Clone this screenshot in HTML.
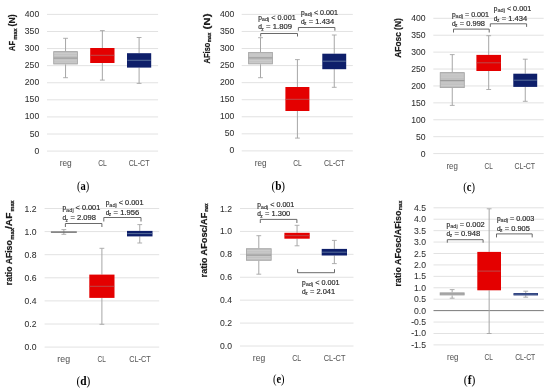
<!DOCTYPE html>
<html><head><meta charset="utf-8"><style>
html,body{margin:0;padding:0;background:#fff;}
body{width:550px;height:390px;overflow:hidden;}
svg{display:block;will-change:transform;}
</style></head><body>
<svg width="550" height="390" viewBox="0 0 550 390">
<g>
<rect width="550" height="390" fill="#fff"/>
<line x1="47.00" y1="14.40" x2="158.10" y2="14.40" stroke="#e2e2e2" stroke-width="1.0"/>
<text x="39.20" y="16.90" font-family='"Liberation Sans", sans-serif' font-size="8.6" fill="#303030" stroke="#303030" stroke-width="0.06" text-anchor="end" font-weight="normal">400</text>
<line x1="47.00" y1="31.49" x2="158.10" y2="31.49" stroke="#e2e2e2" stroke-width="1.0"/>
<text x="39.20" y="33.99" font-family='"Liberation Sans", sans-serif' font-size="8.6" fill="#303030" stroke="#303030" stroke-width="0.06" text-anchor="end" font-weight="normal">350</text>
<line x1="47.00" y1="48.57" x2="158.10" y2="48.57" stroke="#e2e2e2" stroke-width="1.0"/>
<text x="39.20" y="51.07" font-family='"Liberation Sans", sans-serif' font-size="8.6" fill="#303030" stroke="#303030" stroke-width="0.06" text-anchor="end" font-weight="normal">300</text>
<line x1="47.00" y1="65.66" x2="158.10" y2="65.66" stroke="#e2e2e2" stroke-width="1.0"/>
<text x="39.20" y="68.16" font-family='"Liberation Sans", sans-serif' font-size="8.6" fill="#303030" stroke="#303030" stroke-width="0.06" text-anchor="end" font-weight="normal">250</text>
<line x1="47.00" y1="82.75" x2="158.10" y2="82.75" stroke="#e2e2e2" stroke-width="1.0"/>
<text x="39.20" y="85.25" font-family='"Liberation Sans", sans-serif' font-size="8.6" fill="#303030" stroke="#303030" stroke-width="0.06" text-anchor="end" font-weight="normal">200</text>
<line x1="47.00" y1="99.84" x2="158.10" y2="99.84" stroke="#e2e2e2" stroke-width="1.0"/>
<text x="39.20" y="102.34" font-family='"Liberation Sans", sans-serif' font-size="8.6" fill="#303030" stroke="#303030" stroke-width="0.06" text-anchor="end" font-weight="normal">150</text>
<line x1="47.00" y1="116.93" x2="158.10" y2="116.93" stroke="#e2e2e2" stroke-width="1.0"/>
<text x="39.20" y="119.43" font-family='"Liberation Sans", sans-serif' font-size="8.6" fill="#303030" stroke="#303030" stroke-width="0.06" text-anchor="end" font-weight="normal">100</text>
<line x1="47.00" y1="134.01" x2="158.10" y2="134.01" stroke="#e2e2e2" stroke-width="1.0"/>
<text x="39.20" y="136.51" font-family='"Liberation Sans", sans-serif' font-size="8.6" fill="#303030" stroke="#303030" stroke-width="0.06" text-anchor="end" font-weight="normal">50</text>
<line x1="47.00" y1="151.10" x2="158.10" y2="151.10" stroke="#e2e2e2" stroke-width="1.0"/>
<text x="39.20" y="153.60" font-family='"Liberation Sans", sans-serif' font-size="8.6" fill="#303030" stroke="#303030" stroke-width="0.06" text-anchor="end" font-weight="normal">0</text>
<line x1="65.55" y1="38.30" x2="65.55" y2="51.20" stroke="#a6a6a6" stroke-width="1.0"/>
<line x1="65.55" y1="64.40" x2="65.55" y2="77.70" stroke="#a6a6a6" stroke-width="1.0"/>
<line x1="63.15" y1="38.30" x2="67.95" y2="38.30" stroke="#a6a6a6" stroke-width="0.9"/>
<line x1="63.15" y1="77.70" x2="67.95" y2="77.70" stroke="#a6a6a6" stroke-width="0.9"/>
<rect x="53.70" y="51.60" width="23.70" height="12.40" fill="#c0c0c0" stroke="#a2a2a2" stroke-width="0.8"/>
<line x1="54.30" y1="53.44" x2="76.80" y2="53.44" stroke="#cfcfcf" stroke-width="0.8"/>
<line x1="54.30" y1="55.29" x2="76.80" y2="55.29" stroke="#cfcfcf" stroke-width="0.8"/>
<line x1="54.30" y1="60.18" x2="76.80" y2="60.18" stroke="#cfcfcf" stroke-width="0.8"/>
<line x1="54.30" y1="62.16" x2="76.80" y2="62.16" stroke="#cfcfcf" stroke-width="0.8"/>
<line x1="53.70" y1="58.10" x2="77.40" y2="58.10" stroke="#939393" stroke-width="0.9"/>
<line x1="102.35" y1="30.60" x2="102.35" y2="48.00" stroke="#a6a6a6" stroke-width="1.0"/>
<line x1="102.35" y1="63.00" x2="102.35" y2="80.10" stroke="#a6a6a6" stroke-width="1.0"/>
<line x1="99.95" y1="30.60" x2="104.75" y2="30.60" stroke="#a6a6a6" stroke-width="0.9"/>
<line x1="99.95" y1="80.10" x2="104.75" y2="80.10" stroke="#a6a6a6" stroke-width="0.9"/>
<rect x="90.20" y="48.00" width="24.30" height="15.00" fill="#e40000"/>
<line x1="90.60" y1="55.30" x2="114.10" y2="55.30" stroke="#b85050" stroke-width="0.9"/>
<line x1="139.10" y1="37.50" x2="139.10" y2="53.20" stroke="#a6a6a6" stroke-width="1.0"/>
<line x1="139.10" y1="67.60" x2="139.10" y2="83.40" stroke="#a6a6a6" stroke-width="1.0"/>
<line x1="136.70" y1="37.50" x2="141.50" y2="37.50" stroke="#a6a6a6" stroke-width="0.9"/>
<line x1="136.70" y1="83.40" x2="141.50" y2="83.40" stroke="#a6a6a6" stroke-width="0.9"/>
<rect x="127.00" y="53.20" width="24.20" height="14.40" fill="#0e1f6a"/>
<line x1="127.40" y1="60.30" x2="150.80" y2="60.30" stroke="#6078a0" stroke-width="0.9"/>
<text x="65.70" y="165.90" font-family='"Liberation Sans", sans-serif' font-size="8.6" fill="#595959" stroke="#595959" stroke-width="0.06" text-anchor="middle" font-weight="normal" textLength="12.00" lengthAdjust="spacingAndGlyphs">reg</text>
<text x="102.50" y="165.90" font-family='"Liberation Sans", sans-serif' font-size="8.6" fill="#595959" stroke="#595959" stroke-width="0.06" text-anchor="middle" font-weight="normal" textLength="8.60" lengthAdjust="spacingAndGlyphs">CL</text>
<text x="139.10" y="165.90" font-family='"Liberation Sans", sans-serif' font-size="8.6" fill="#595959" stroke="#595959" stroke-width="0.06" text-anchor="middle" font-weight="normal" textLength="20.80" lengthAdjust="spacingAndGlyphs">CL-CT</text>
<text x="76.90" y="190.40" font-family='"Liberation Serif", serif' font-size="12.2" fill="#000" textLength="12.30" lengthAdjust="spacingAndGlyphs">(<tspan font-weight="bold">a</tspan>)</text>
<g transform="translate(15.30,50.90) rotate(-90)"><text x="0" y="0" font-family='"Liberation Sans", sans-serif' font-size="8.4" font-weight="bold" fill="#1a1a1a" stroke="#1a1a1a" stroke-width="0.2" textLength="10.00" lengthAdjust="spacingAndGlyphs">AF</text></g>
<g transform="translate(16.90,39.80) rotate(-90)"><text x="0" y="0" font-family='"Liberation Sans", sans-serif' font-size="5.6" font-weight="bold" fill="#1a1a1a" stroke="#1a1a1a" stroke-width="0.26" textLength="11.40" lengthAdjust="spacingAndGlyphs">max</text></g>
<g transform="translate(15.30,26.40) rotate(-90)"><text x="0" y="0" font-family='"Liberation Sans", sans-serif' font-size="8.4" font-weight="bold" fill="#1a1a1a" stroke="#1a1a1a" stroke-width="0.2" textLength="12.20" lengthAdjust="spacingAndGlyphs">(N)</text></g>
<line x1="241.70" y1="14.40" x2="352.80" y2="14.40" stroke="#e2e2e2" stroke-width="1.0"/>
<text x="234.30" y="16.90" font-family='"Liberation Sans", sans-serif' font-size="8.6" fill="#303030" stroke="#303030" stroke-width="0.06" text-anchor="end" font-weight="normal">400</text>
<line x1="241.70" y1="31.46" x2="352.80" y2="31.46" stroke="#e2e2e2" stroke-width="1.0"/>
<text x="234.30" y="33.96" font-family='"Liberation Sans", sans-serif' font-size="8.6" fill="#303030" stroke="#303030" stroke-width="0.06" text-anchor="end" font-weight="normal">350</text>
<line x1="241.70" y1="48.52" x2="352.80" y2="48.52" stroke="#e2e2e2" stroke-width="1.0"/>
<text x="234.30" y="51.02" font-family='"Liberation Sans", sans-serif' font-size="8.6" fill="#303030" stroke="#303030" stroke-width="0.06" text-anchor="end" font-weight="normal">300</text>
<line x1="241.70" y1="65.59" x2="352.80" y2="65.59" stroke="#e2e2e2" stroke-width="1.0"/>
<text x="234.30" y="68.09" font-family='"Liberation Sans", sans-serif' font-size="8.6" fill="#303030" stroke="#303030" stroke-width="0.06" text-anchor="end" font-weight="normal">250</text>
<line x1="241.70" y1="82.65" x2="352.80" y2="82.65" stroke="#e2e2e2" stroke-width="1.0"/>
<text x="234.30" y="85.15" font-family='"Liberation Sans", sans-serif' font-size="8.6" fill="#303030" stroke="#303030" stroke-width="0.06" text-anchor="end" font-weight="normal">200</text>
<line x1="241.70" y1="99.71" x2="352.80" y2="99.71" stroke="#e2e2e2" stroke-width="1.0"/>
<text x="234.30" y="102.21" font-family='"Liberation Sans", sans-serif' font-size="8.6" fill="#303030" stroke="#303030" stroke-width="0.06" text-anchor="end" font-weight="normal">150</text>
<line x1="241.70" y1="116.78" x2="352.80" y2="116.78" stroke="#e2e2e2" stroke-width="1.0"/>
<text x="234.30" y="119.28" font-family='"Liberation Sans", sans-serif' font-size="8.6" fill="#303030" stroke="#303030" stroke-width="0.06" text-anchor="end" font-weight="normal">100</text>
<line x1="241.70" y1="133.84" x2="352.80" y2="133.84" stroke="#e2e2e2" stroke-width="1.0"/>
<text x="234.30" y="136.34" font-family='"Liberation Sans", sans-serif' font-size="8.6" fill="#303030" stroke="#303030" stroke-width="0.06" text-anchor="end" font-weight="normal">50</text>
<line x1="241.70" y1="150.90" x2="352.80" y2="150.90" stroke="#e2e2e2" stroke-width="1.0"/>
<text x="234.30" y="153.40" font-family='"Liberation Sans", sans-serif' font-size="8.6" fill="#303030" stroke="#303030" stroke-width="0.06" text-anchor="end" font-weight="normal">0</text>
<line x1="260.50" y1="37.70" x2="260.50" y2="52.10" stroke="#a6a6a6" stroke-width="1.0"/>
<line x1="260.50" y1="64.30" x2="260.50" y2="77.70" stroke="#a6a6a6" stroke-width="1.0"/>
<line x1="258.10" y1="37.70" x2="262.90" y2="37.70" stroke="#a6a6a6" stroke-width="0.9"/>
<line x1="258.10" y1="77.70" x2="262.90" y2="77.70" stroke="#a6a6a6" stroke-width="0.9"/>
<rect x="248.60" y="52.50" width="23.80" height="11.40" fill="#c0c0c0" stroke="#a2a2a2" stroke-width="0.8"/>
<line x1="249.20" y1="54.17" x2="271.80" y2="54.17" stroke="#cfcfcf" stroke-width="0.8"/>
<line x1="249.20" y1="55.88" x2="271.80" y2="55.88" stroke="#cfcfcf" stroke-width="0.8"/>
<line x1="249.20" y1="60.40" x2="271.80" y2="60.40" stroke="#cfcfcf" stroke-width="0.8"/>
<line x1="249.20" y1="62.23" x2="271.80" y2="62.23" stroke="#cfcfcf" stroke-width="0.8"/>
<line x1="248.60" y1="57.90" x2="272.40" y2="57.90" stroke="#939393" stroke-width="0.9"/>
<line x1="297.40" y1="59.60" x2="297.40" y2="87.00" stroke="#a6a6a6" stroke-width="1.0"/>
<line x1="297.40" y1="111.00" x2="297.40" y2="138.10" stroke="#a6a6a6" stroke-width="1.0"/>
<line x1="295.00" y1="59.60" x2="299.80" y2="59.60" stroke="#a6a6a6" stroke-width="0.9"/>
<line x1="295.00" y1="138.10" x2="299.80" y2="138.10" stroke="#a6a6a6" stroke-width="0.9"/>
<rect x="285.40" y="87.00" width="24.00" height="24.00" fill="#e40000"/>
<line x1="285.80" y1="99.30" x2="309.00" y2="99.30" stroke="#b85050" stroke-width="0.9"/>
<line x1="334.25" y1="35.00" x2="334.25" y2="53.70" stroke="#a6a6a6" stroke-width="1.0"/>
<line x1="334.25" y1="69.20" x2="334.25" y2="87.30" stroke="#a6a6a6" stroke-width="1.0"/>
<line x1="331.85" y1="35.00" x2="336.65" y2="35.00" stroke="#a6a6a6" stroke-width="0.9"/>
<line x1="331.85" y1="87.30" x2="336.65" y2="87.30" stroke="#a6a6a6" stroke-width="0.9"/>
<rect x="322.30" y="53.70" width="23.90" height="15.50" fill="#0e1f6a"/>
<line x1="322.70" y1="61.20" x2="345.80" y2="61.20" stroke="#6078a0" stroke-width="0.9"/>
<text x="260.70" y="165.50" font-family='"Liberation Sans", sans-serif' font-size="8.6" fill="#595959" stroke="#595959" stroke-width="0.06" text-anchor="middle" font-weight="normal" textLength="11.80" lengthAdjust="spacingAndGlyphs">reg</text>
<text x="297.40" y="165.50" font-family='"Liberation Sans", sans-serif' font-size="8.6" fill="#595959" stroke="#595959" stroke-width="0.06" text-anchor="middle" font-weight="normal" textLength="8.40" lengthAdjust="spacingAndGlyphs">CL</text>
<text x="334.30" y="165.50" font-family='"Liberation Sans", sans-serif' font-size="8.6" fill="#595959" stroke="#595959" stroke-width="0.06" text-anchor="middle" font-weight="normal" textLength="20.80" lengthAdjust="spacingAndGlyphs">CL-CT</text>
<text x="258.20" y="19.80" font-family='"Liberation Sans", sans-serif' fill="#2a2a2a" stroke="#2a2a2a" stroke-width="0.16" font-size="6.6">p</text>
<text x="261.80" y="21.20" font-family='"Liberation Sans", sans-serif' fill="#2a2a2a" stroke="#2a2a2a" stroke-width="0.06" font-size="5.0" textLength="7.6" lengthAdjust="spacingAndGlyphs">adj</text>
<text x="271.30" y="19.80" font-family='"Liberation Sans", sans-serif' fill="#2a2a2a" stroke="#2a2a2a" stroke-width="0.16" font-size="6.6" textLength="24.40" lengthAdjust="spacingAndGlyphs">&lt; 0.001</text>
<text x="258.20" y="29.30" font-family='"Liberation Sans", sans-serif' fill="#2a2a2a" stroke="#2a2a2a" stroke-width="0.16" font-size="6.6">d</text>
<text x="261.30" y="30.70" font-family='"Liberation Sans", sans-serif' fill="#2a2a2a" stroke="#2a2a2a" stroke-width="0.06" font-size="5.0">z</text>
<text x="266.10" y="29.30" font-family='"Liberation Sans", sans-serif' fill="#2a2a2a" stroke="#2a2a2a" stroke-width="0.16" font-size="6.6" textLength="25.90" lengthAdjust="spacingAndGlyphs">= 1.809</text>
<text x="300.90" y="14.60" font-family='"Liberation Sans", sans-serif' fill="#2a2a2a" stroke="#2a2a2a" stroke-width="0.16" font-size="6.6">p</text>
<text x="304.50" y="16.00" font-family='"Liberation Sans", sans-serif' fill="#2a2a2a" stroke="#2a2a2a" stroke-width="0.06" font-size="5.0" textLength="7.6" lengthAdjust="spacingAndGlyphs">adj</text>
<text x="314.00" y="14.60" font-family='"Liberation Sans", sans-serif' fill="#2a2a2a" stroke="#2a2a2a" stroke-width="0.16" font-size="6.6" textLength="23.90" lengthAdjust="spacingAndGlyphs">&lt; 0.001</text>
<text x="300.90" y="24.00" font-family='"Liberation Sans", sans-serif' fill="#2a2a2a" stroke="#2a2a2a" stroke-width="0.16" font-size="6.6">d</text>
<text x="304.00" y="25.40" font-family='"Liberation Sans", sans-serif' fill="#2a2a2a" stroke="#2a2a2a" stroke-width="0.06" font-size="5.0">z</text>
<text x="308.80" y="24.00" font-family='"Liberation Sans", sans-serif' fill="#2a2a2a" stroke="#2a2a2a" stroke-width="0.16" font-size="6.6" textLength="25.50" lengthAdjust="spacingAndGlyphs">= 1.434</text>
<path d="M260.70,36.50 L260.70,33.50 L297.50,33.50 L297.50,36.50" fill="none" stroke="#595959" stroke-width="0.9"/>
<path d="M298.40,30.70 L298.40,27.50 L334.90,27.50 L334.90,30.70" fill="none" stroke="#595959" stroke-width="0.9"/>
<text x="271.40" y="190.30" font-family='"Liberation Serif", serif' font-size="12.2" fill="#000" textLength="13.70" lengthAdjust="spacingAndGlyphs">(<tspan font-weight="bold">b</tspan>)</text>
<g transform="translate(209.60,63.40) rotate(-90)"><text x="0" y="0" font-family='"Liberation Sans", sans-serif' font-size="8.4" font-weight="bold" fill="#1a1a1a" stroke="#1a1a1a" stroke-width="0.2" textLength="20.80" lengthAdjust="spacingAndGlyphs">AFiso</text></g>
<g transform="translate(211.30,42.20) rotate(-90)"><text x="0" y="0" font-family='"Liberation Sans", sans-serif' font-size="5.6" font-weight="bold" fill="#1a1a1a" stroke="#1a1a1a" stroke-width="0.26" textLength="9.60" lengthAdjust="spacingAndGlyphs">max</text></g>
<g transform="translate(209.60,29.50) rotate(-90)"><text x="0" y="0" font-family='"Liberation Sans", sans-serif' font-size="8.4" font-weight="bold" fill="#1a1a1a" stroke="#1a1a1a" stroke-width="0.2" textLength="16.10" lengthAdjust="spacingAndGlyphs">(N)</text></g>
<line x1="433.30" y1="18.30" x2="543.70" y2="18.30" stroke="#e2e2e2" stroke-width="1.0"/>
<text x="425.50" y="21.30" font-family='"Liberation Sans", sans-serif' font-size="8.6" fill="#303030" stroke="#303030" stroke-width="0.06" text-anchor="end" font-weight="normal">400</text>
<line x1="433.30" y1="35.21" x2="543.70" y2="35.21" stroke="#e2e2e2" stroke-width="1.0"/>
<text x="425.50" y="38.21" font-family='"Liberation Sans", sans-serif' font-size="8.6" fill="#303030" stroke="#303030" stroke-width="0.06" text-anchor="end" font-weight="normal">350</text>
<line x1="433.30" y1="52.12" x2="543.70" y2="52.12" stroke="#e2e2e2" stroke-width="1.0"/>
<text x="425.50" y="55.12" font-family='"Liberation Sans", sans-serif' font-size="8.6" fill="#303030" stroke="#303030" stroke-width="0.06" text-anchor="end" font-weight="normal">300</text>
<line x1="433.30" y1="69.04" x2="543.70" y2="69.04" stroke="#e2e2e2" stroke-width="1.0"/>
<text x="425.50" y="72.04" font-family='"Liberation Sans", sans-serif' font-size="8.6" fill="#303030" stroke="#303030" stroke-width="0.06" text-anchor="end" font-weight="normal">250</text>
<line x1="433.30" y1="85.95" x2="543.70" y2="85.95" stroke="#e2e2e2" stroke-width="1.0"/>
<text x="425.50" y="88.95" font-family='"Liberation Sans", sans-serif' font-size="8.6" fill="#303030" stroke="#303030" stroke-width="0.06" text-anchor="end" font-weight="normal">200</text>
<line x1="433.30" y1="102.86" x2="543.70" y2="102.86" stroke="#e2e2e2" stroke-width="1.0"/>
<text x="425.50" y="105.86" font-family='"Liberation Sans", sans-serif' font-size="8.6" fill="#303030" stroke="#303030" stroke-width="0.06" text-anchor="end" font-weight="normal">150</text>
<line x1="433.30" y1="119.77" x2="543.70" y2="119.77" stroke="#e2e2e2" stroke-width="1.0"/>
<text x="425.50" y="122.77" font-family='"Liberation Sans", sans-serif' font-size="8.6" fill="#303030" stroke="#303030" stroke-width="0.06" text-anchor="end" font-weight="normal">100</text>
<line x1="433.30" y1="136.69" x2="543.70" y2="136.69" stroke="#e2e2e2" stroke-width="1.0"/>
<text x="425.50" y="139.69" font-family='"Liberation Sans", sans-serif' font-size="8.6" fill="#303030" stroke="#303030" stroke-width="0.06" text-anchor="end" font-weight="normal">50</text>
<line x1="433.30" y1="153.60" x2="543.70" y2="153.60" stroke="#e2e2e2" stroke-width="1.0"/>
<text x="425.50" y="156.60" font-family='"Liberation Sans", sans-serif' font-size="8.6" fill="#303030" stroke="#303030" stroke-width="0.06" text-anchor="end" font-weight="normal">0</text>
<line x1="452.25" y1="54.60" x2="452.25" y2="72.20" stroke="#a6a6a6" stroke-width="1.0"/>
<line x1="452.25" y1="88.00" x2="452.25" y2="105.40" stroke="#a6a6a6" stroke-width="1.0"/>
<line x1="449.85" y1="54.60" x2="454.65" y2="54.60" stroke="#a6a6a6" stroke-width="0.9"/>
<line x1="449.85" y1="105.40" x2="454.65" y2="105.40" stroke="#a6a6a6" stroke-width="0.9"/>
<rect x="440.20" y="72.60" width="24.10" height="15.00" fill="#c0c0c0" stroke="#a2a2a2" stroke-width="0.8"/>
<line x1="440.80" y1="74.89" x2="463.70" y2="74.89" stroke="#cfcfcf" stroke-width="0.8"/>
<line x1="440.80" y1="77.10" x2="463.70" y2="77.10" stroke="#cfcfcf" stroke-width="0.8"/>
<line x1="440.80" y1="82.94" x2="463.70" y2="82.94" stroke="#cfcfcf" stroke-width="0.8"/>
<line x1="440.80" y1="85.31" x2="463.70" y2="85.31" stroke="#cfcfcf" stroke-width="0.8"/>
<line x1="440.20" y1="80.60" x2="464.30" y2="80.60" stroke="#939393" stroke-width="0.9"/>
<line x1="488.70" y1="35.70" x2="488.70" y2="54.90" stroke="#a6a6a6" stroke-width="1.0"/>
<line x1="488.70" y1="71.00" x2="488.70" y2="89.50" stroke="#a6a6a6" stroke-width="1.0"/>
<line x1="486.30" y1="35.70" x2="491.10" y2="35.70" stroke="#a6a6a6" stroke-width="0.9"/>
<line x1="486.30" y1="89.50" x2="491.10" y2="89.50" stroke="#a6a6a6" stroke-width="0.9"/>
<rect x="476.40" y="54.90" width="24.60" height="16.10" fill="#e40000"/>
<line x1="476.80" y1="62.80" x2="500.60" y2="62.80" stroke="#b85050" stroke-width="0.9"/>
<line x1="525.25" y1="59.20" x2="525.25" y2="73.70" stroke="#a6a6a6" stroke-width="1.0"/>
<line x1="525.25" y1="86.90" x2="525.25" y2="101.30" stroke="#a6a6a6" stroke-width="1.0"/>
<line x1="522.85" y1="59.20" x2="527.65" y2="59.20" stroke="#a6a6a6" stroke-width="0.9"/>
<line x1="522.85" y1="101.30" x2="527.65" y2="101.30" stroke="#a6a6a6" stroke-width="0.9"/>
<rect x="513.30" y="73.70" width="23.90" height="13.20" fill="#0e1f6a"/>
<line x1="513.70" y1="80.20" x2="536.80" y2="80.20" stroke="#6078a0" stroke-width="0.9"/>
<text x="452.10" y="168.50" font-family='"Liberation Sans", sans-serif' font-size="8.6" fill="#595959" stroke="#595959" stroke-width="0.06" text-anchor="middle" font-weight="normal" textLength="11.40" lengthAdjust="spacingAndGlyphs">reg</text>
<text x="488.60" y="168.50" font-family='"Liberation Sans", sans-serif' font-size="8.6" fill="#595959" stroke="#595959" stroke-width="0.06" text-anchor="middle" font-weight="normal" textLength="8.20" lengthAdjust="spacingAndGlyphs">CL</text>
<text x="524.80" y="168.50" font-family='"Liberation Sans", sans-serif' font-size="8.6" fill="#595959" stroke="#595959" stroke-width="0.06" text-anchor="middle" font-weight="normal" textLength="20.50" lengthAdjust="spacingAndGlyphs">CL-CT</text>
<text x="451.90" y="16.80" font-family='"Liberation Sans", sans-serif' fill="#2a2a2a" stroke="#2a2a2a" stroke-width="0.16" font-size="6.6">p</text>
<text x="455.50" y="18.20" font-family='"Liberation Sans", sans-serif' fill="#2a2a2a" stroke="#2a2a2a" stroke-width="0.06" font-size="5.0" textLength="7.6" lengthAdjust="spacingAndGlyphs">adj</text>
<text x="465.00" y="16.80" font-family='"Liberation Sans", sans-serif' fill="#2a2a2a" stroke="#2a2a2a" stroke-width="0.16" font-size="6.6" textLength="24.00" lengthAdjust="spacingAndGlyphs">= 0.001</text>
<text x="451.90" y="25.90" font-family='"Liberation Sans", sans-serif' fill="#2a2a2a" stroke="#2a2a2a" stroke-width="0.16" font-size="6.6">d</text>
<text x="455.00" y="27.30" font-family='"Liberation Sans", sans-serif' fill="#2a2a2a" stroke="#2a2a2a" stroke-width="0.06" font-size="5.0">z</text>
<text x="459.80" y="25.90" font-family='"Liberation Sans", sans-serif' fill="#2a2a2a" stroke="#2a2a2a" stroke-width="0.16" font-size="6.6" textLength="25.20" lengthAdjust="spacingAndGlyphs">= 0.998</text>
<text x="493.80" y="10.80" font-family='"Liberation Sans", sans-serif' fill="#2a2a2a" stroke="#2a2a2a" stroke-width="0.16" font-size="6.6">p</text>
<text x="497.40" y="12.20" font-family='"Liberation Sans", sans-serif' fill="#2a2a2a" stroke="#2a2a2a" stroke-width="0.06" font-size="5.0" textLength="7.6" lengthAdjust="spacingAndGlyphs">adj</text>
<text x="506.90" y="10.80" font-family='"Liberation Sans", sans-serif' fill="#2a2a2a" stroke="#2a2a2a" stroke-width="0.16" font-size="6.6" textLength="24.30" lengthAdjust="spacingAndGlyphs">&lt; 0.001</text>
<text x="493.80" y="20.50" font-family='"Liberation Sans", sans-serif' fill="#2a2a2a" stroke="#2a2a2a" stroke-width="0.16" font-size="6.6">d</text>
<text x="496.90" y="21.90" font-family='"Liberation Sans", sans-serif' fill="#2a2a2a" stroke="#2a2a2a" stroke-width="0.06" font-size="5.0">z</text>
<text x="501.70" y="20.50" font-family='"Liberation Sans", sans-serif' fill="#2a2a2a" stroke="#2a2a2a" stroke-width="0.16" font-size="6.6" textLength="25.50" lengthAdjust="spacingAndGlyphs">= 1.434</text>
<path d="M453.50,32.50 L453.50,29.10 L489.20,29.10 L489.20,32.50" fill="none" stroke="#595959" stroke-width="0.9"/>
<path d="M490.30,26.90 L490.30,23.80 L526.60,23.80 L526.60,26.90" fill="none" stroke="#595959" stroke-width="0.9"/>
<text x="463.30" y="190.50" font-family='"Liberation Serif", serif' font-size="12.2" fill="#000" textLength="11.70" lengthAdjust="spacingAndGlyphs">(<tspan font-weight="bold">c</tspan>)</text>
<g transform="translate(401.00,57.70) rotate(-90)"><text x="0" y="0" font-family='"Liberation Sans", sans-serif' font-size="8.4" font-weight="bold" fill="#1a1a1a" stroke="#1a1a1a" stroke-width="0.2" textLength="39.40" lengthAdjust="spacingAndGlyphs">AFosc (N)</text></g>
<line x1="44.60" y1="208.50" x2="159.20" y2="208.50" stroke="#e2e2e2" stroke-width="1.0"/>
<text x="36.50" y="211.50" font-family='"Liberation Sans", sans-serif' font-size="8.6" fill="#303030" stroke="#303030" stroke-width="0.06" text-anchor="end" font-weight="normal">1.2</text>
<line x1="44.60" y1="231.60" x2="159.20" y2="231.60" stroke="#e2e2e2" stroke-width="1.0"/>
<text x="36.50" y="234.60" font-family='"Liberation Sans", sans-serif' font-size="8.6" fill="#303030" stroke="#303030" stroke-width="0.06" text-anchor="end" font-weight="normal">1.0</text>
<line x1="44.60" y1="254.70" x2="159.20" y2="254.70" stroke="#e2e2e2" stroke-width="1.0"/>
<text x="36.50" y="257.70" font-family='"Liberation Sans", sans-serif' font-size="8.6" fill="#303030" stroke="#303030" stroke-width="0.06" text-anchor="end" font-weight="normal">0.8</text>
<line x1="44.60" y1="277.80" x2="159.20" y2="277.80" stroke="#e2e2e2" stroke-width="1.0"/>
<text x="36.50" y="280.80" font-family='"Liberation Sans", sans-serif' font-size="8.6" fill="#303030" stroke="#303030" stroke-width="0.06" text-anchor="end" font-weight="normal">0.6</text>
<line x1="44.60" y1="300.90" x2="159.20" y2="300.90" stroke="#e2e2e2" stroke-width="1.0"/>
<text x="36.50" y="303.90" font-family='"Liberation Sans", sans-serif' font-size="8.6" fill="#303030" stroke="#303030" stroke-width="0.06" text-anchor="end" font-weight="normal">0.4</text>
<line x1="44.60" y1="324.00" x2="159.20" y2="324.00" stroke="#e2e2e2" stroke-width="1.0"/>
<text x="36.50" y="327.00" font-family='"Liberation Sans", sans-serif' font-size="8.6" fill="#303030" stroke="#303030" stroke-width="0.06" text-anchor="end" font-weight="normal">0.2</text>
<line x1="44.60" y1="347.10" x2="159.20" y2="347.10" stroke="#e2e2e2" stroke-width="1.0"/>
<text x="36.50" y="350.10" font-family='"Liberation Sans", sans-serif' font-size="8.6" fill="#303030" stroke="#303030" stroke-width="0.06" text-anchor="end" font-weight="normal">0.0</text>
<line x1="63.85" y1="229.60" x2="63.85" y2="232.10" stroke="#a6a6a6" stroke-width="1.0"/>
<line x1="63.85" y1="232.10" x2="63.85" y2="234.30" stroke="#a6a6a6" stroke-width="1.0"/>
<line x1="61.45" y1="229.60" x2="66.25" y2="229.60" stroke="#a6a6a6" stroke-width="0.9"/>
<line x1="61.45" y1="234.30" x2="66.25" y2="234.30" stroke="#a6a6a6" stroke-width="0.9"/>
<line x1="50.90" y1="232.10" x2="76.80" y2="232.10" stroke="#6a6a6a" stroke-width="1.4"/>
<line x1="101.90" y1="248.30" x2="101.90" y2="274.60" stroke="#a6a6a6" stroke-width="1.0"/>
<line x1="101.90" y1="297.90" x2="101.90" y2="324.30" stroke="#a6a6a6" stroke-width="1.0"/>
<line x1="99.50" y1="248.30" x2="104.30" y2="248.30" stroke="#a6a6a6" stroke-width="0.9"/>
<line x1="99.50" y1="324.30" x2="104.30" y2="324.30" stroke="#a6a6a6" stroke-width="0.9"/>
<rect x="89.30" y="274.60" width="25.20" height="23.30" fill="#e40000"/>
<line x1="89.70" y1="286.30" x2="114.10" y2="286.30" stroke="#b85050" stroke-width="0.9"/>
<line x1="139.75" y1="224.60" x2="139.75" y2="230.90" stroke="#a6a6a6" stroke-width="1.0"/>
<line x1="139.75" y1="236.40" x2="139.75" y2="243.00" stroke="#a6a6a6" stroke-width="1.0"/>
<line x1="137.35" y1="224.60" x2="142.15" y2="224.60" stroke="#a6a6a6" stroke-width="0.9"/>
<line x1="137.35" y1="243.00" x2="142.15" y2="243.00" stroke="#a6a6a6" stroke-width="0.9"/>
<rect x="127.00" y="230.90" width="25.50" height="5.50" fill="#0e1f6a"/>
<line x1="127.40" y1="233.60" x2="152.10" y2="233.60" stroke="#6078a0" stroke-width="0.9"/>
<text x="63.70" y="362.20" font-family='"Liberation Sans", sans-serif' font-size="8.6" fill="#595959" stroke="#595959" stroke-width="0.06" text-anchor="middle" font-weight="normal" textLength="12.70" lengthAdjust="spacingAndGlyphs">reg</text>
<text x="101.70" y="362.20" font-family='"Liberation Sans", sans-serif' font-size="8.6" fill="#595959" stroke="#595959" stroke-width="0.06" text-anchor="middle" font-weight="normal" textLength="8.30" lengthAdjust="spacingAndGlyphs">CL</text>
<text x="140.00" y="362.20" font-family='"Liberation Sans", sans-serif' font-size="8.6" fill="#595959" stroke="#595959" stroke-width="0.06" text-anchor="middle" font-weight="normal" textLength="21.40" lengthAdjust="spacingAndGlyphs">CL-CT</text>
<text x="62.50" y="210.30" font-family='"Liberation Sans", sans-serif' fill="#2a2a2a" stroke="#2a2a2a" stroke-width="0.16" font-size="6.6">p</text>
<text x="66.10" y="211.70" font-family='"Liberation Sans", sans-serif' fill="#2a2a2a" stroke="#2a2a2a" stroke-width="0.06" font-size="5.0" textLength="7.6" lengthAdjust="spacingAndGlyphs">adj</text>
<text x="75.60" y="210.30" font-family='"Liberation Sans", sans-serif' fill="#2a2a2a" stroke="#2a2a2a" stroke-width="0.16" font-size="6.6" textLength="24.70" lengthAdjust="spacingAndGlyphs">&lt; 0.001</text>
<text x="62.50" y="220.30" font-family='"Liberation Sans", sans-serif' fill="#2a2a2a" stroke="#2a2a2a" stroke-width="0.16" font-size="6.6">d</text>
<text x="65.60" y="221.70" font-family='"Liberation Sans", sans-serif' fill="#2a2a2a" stroke="#2a2a2a" stroke-width="0.06" font-size="5.0">z</text>
<text x="70.40" y="220.30" font-family='"Liberation Sans", sans-serif' fill="#2a2a2a" stroke="#2a2a2a" stroke-width="0.16" font-size="6.6" textLength="25.60" lengthAdjust="spacingAndGlyphs">= 2.098</text>
<text x="105.70" y="205.10" font-family='"Liberation Sans", sans-serif' fill="#2a2a2a" stroke="#2a2a2a" stroke-width="0.16" font-size="6.6">p</text>
<text x="109.30" y="206.50" font-family='"Liberation Sans", sans-serif' fill="#2a2a2a" stroke="#2a2a2a" stroke-width="0.06" font-size="5.0" textLength="7.6" lengthAdjust="spacingAndGlyphs">adj</text>
<text x="118.80" y="205.10" font-family='"Liberation Sans", sans-serif' fill="#2a2a2a" stroke="#2a2a2a" stroke-width="0.16" font-size="6.6" textLength="24.70" lengthAdjust="spacingAndGlyphs">&lt; 0.001</text>
<text x="105.70" y="214.60" font-family='"Liberation Sans", sans-serif' fill="#2a2a2a" stroke="#2a2a2a" stroke-width="0.16" font-size="6.6">d</text>
<text x="108.80" y="216.00" font-family='"Liberation Sans", sans-serif' fill="#2a2a2a" stroke="#2a2a2a" stroke-width="0.06" font-size="5.0">z</text>
<text x="113.60" y="214.60" font-family='"Liberation Sans", sans-serif' fill="#2a2a2a" stroke="#2a2a2a" stroke-width="0.16" font-size="6.6" textLength="25.70" lengthAdjust="spacingAndGlyphs">= 1.956</text>
<path d="M65.40,227.00 L65.40,223.50 L101.90,223.50 L101.90,227.00" fill="none" stroke="#595959" stroke-width="0.9"/>
<path d="M103.80,221.50 L103.80,217.50 L141.00,217.50 L141.00,221.50" fill="none" stroke="#595959" stroke-width="0.9"/>
<text x="76.40" y="384.50" font-family='"Liberation Serif", serif' font-size="12.2" fill="#000" textLength="13.90" lengthAdjust="spacingAndGlyphs">(<tspan font-weight="bold">d</tspan>)</text>
<g transform="translate(11.80,285.20) rotate(-90)"><text x="0" y="0" font-family='"Liberation Sans", sans-serif' font-size="8.4" font-weight="bold" fill="#1a1a1a" stroke="#1a1a1a" stroke-width="0.2" textLength="44.90" lengthAdjust="spacingAndGlyphs">ratio AFiso</text></g>
<g transform="translate(13.60,239.70) rotate(-90)"><text x="0" y="0" font-family='"Liberation Sans", sans-serif' font-size="5.8" font-weight="bold" fill="#1a1a1a" stroke="#1a1a1a" stroke-width="0.26" textLength="11.70" lengthAdjust="spacingAndGlyphs">max</text></g>
<g transform="translate(11.80,229.00) rotate(-90)"><text x="0" y="0" font-family='"Liberation Sans", sans-serif' font-size="8.4" font-weight="bold" fill="#1a1a1a" stroke="#1a1a1a" stroke-width="0.2" textLength="16.40" lengthAdjust="spacingAndGlyphs">/AF</text></g>
<g transform="translate(13.60,211.40) rotate(-90)"><text x="0" y="0" font-family='"Liberation Sans", sans-serif' font-size="5.8" font-weight="bold" fill="#1a1a1a" stroke="#1a1a1a" stroke-width="0.26" textLength="11.10" lengthAdjust="spacingAndGlyphs">max</text></g>
<line x1="240.00" y1="208.50" x2="353.50" y2="208.50" stroke="#e2e2e2" stroke-width="1.0"/>
<text x="232.00" y="211.50" font-family='"Liberation Sans", sans-serif' font-size="8.6" fill="#303030" stroke="#303030" stroke-width="0.06" text-anchor="end" font-weight="normal">1.2</text>
<line x1="240.00" y1="231.42" x2="353.50" y2="231.42" stroke="#e2e2e2" stroke-width="1.0"/>
<text x="232.00" y="234.42" font-family='"Liberation Sans", sans-serif' font-size="8.6" fill="#303030" stroke="#303030" stroke-width="0.06" text-anchor="end" font-weight="normal">1.0</text>
<line x1="240.00" y1="254.33" x2="353.50" y2="254.33" stroke="#e2e2e2" stroke-width="1.0"/>
<text x="232.00" y="257.33" font-family='"Liberation Sans", sans-serif' font-size="8.6" fill="#303030" stroke="#303030" stroke-width="0.06" text-anchor="end" font-weight="normal">0.8</text>
<line x1="240.00" y1="277.25" x2="353.50" y2="277.25" stroke="#e2e2e2" stroke-width="1.0"/>
<text x="232.00" y="280.25" font-family='"Liberation Sans", sans-serif' font-size="8.6" fill="#303030" stroke="#303030" stroke-width="0.06" text-anchor="end" font-weight="normal">0.6</text>
<line x1="240.00" y1="300.17" x2="353.50" y2="300.17" stroke="#e2e2e2" stroke-width="1.0"/>
<text x="232.00" y="303.17" font-family='"Liberation Sans", sans-serif' font-size="8.6" fill="#303030" stroke="#303030" stroke-width="0.06" text-anchor="end" font-weight="normal">0.4</text>
<line x1="240.00" y1="323.08" x2="353.50" y2="323.08" stroke="#e2e2e2" stroke-width="1.0"/>
<text x="232.00" y="326.08" font-family='"Liberation Sans", sans-serif' font-size="8.6" fill="#303030" stroke="#303030" stroke-width="0.06" text-anchor="end" font-weight="normal">0.2</text>
<line x1="240.00" y1="346.00" x2="353.50" y2="346.00" stroke="#e2e2e2" stroke-width="1.0"/>
<text x="232.00" y="349.00" font-family='"Liberation Sans", sans-serif' font-size="8.6" fill="#303030" stroke="#303030" stroke-width="0.06" text-anchor="end" font-weight="normal">0.0</text>
<line x1="258.80" y1="235.70" x2="258.80" y2="248.30" stroke="#a6a6a6" stroke-width="1.0"/>
<line x1="258.80" y1="260.70" x2="258.80" y2="274.20" stroke="#a6a6a6" stroke-width="1.0"/>
<line x1="256.40" y1="235.70" x2="261.20" y2="235.70" stroke="#a6a6a6" stroke-width="0.9"/>
<line x1="256.40" y1="274.20" x2="261.20" y2="274.20" stroke="#a6a6a6" stroke-width="0.9"/>
<rect x="246.40" y="248.70" width="24.80" height="11.60" fill="#c0c0c0" stroke="#a2a2a2" stroke-width="0.8"/>
<line x1="247.00" y1="250.41" x2="270.60" y2="250.41" stroke="#cfcfcf" stroke-width="0.8"/>
<line x1="247.00" y1="252.14" x2="270.60" y2="252.14" stroke="#cfcfcf" stroke-width="0.8"/>
<line x1="247.00" y1="256.73" x2="270.60" y2="256.73" stroke="#cfcfcf" stroke-width="0.8"/>
<line x1="247.00" y1="258.59" x2="270.60" y2="258.59" stroke="#cfcfcf" stroke-width="0.8"/>
<line x1="246.40" y1="255.10" x2="271.20" y2="255.10" stroke="#939393" stroke-width="0.9"/>
<line x1="297.05" y1="225.30" x2="297.05" y2="232.80" stroke="#a6a6a6" stroke-width="1.0"/>
<line x1="297.05" y1="238.70" x2="297.05" y2="245.80" stroke="#a6a6a6" stroke-width="1.0"/>
<line x1="294.65" y1="225.30" x2="299.45" y2="225.30" stroke="#a6a6a6" stroke-width="0.9"/>
<line x1="294.65" y1="245.80" x2="299.45" y2="245.80" stroke="#a6a6a6" stroke-width="0.9"/>
<rect x="284.40" y="232.80" width="25.30" height="5.90" fill="#e40000"/>
<line x1="284.80" y1="235.70" x2="309.30" y2="235.70" stroke="#b85050" stroke-width="0.9"/>
<line x1="334.35" y1="240.40" x2="334.35" y2="248.90" stroke="#a6a6a6" stroke-width="1.0"/>
<line x1="334.35" y1="255.50" x2="334.35" y2="263.60" stroke="#a6a6a6" stroke-width="1.0"/>
<line x1="331.95" y1="240.40" x2="336.75" y2="240.40" stroke="#a6a6a6" stroke-width="0.9"/>
<line x1="331.95" y1="263.60" x2="336.75" y2="263.60" stroke="#a6a6a6" stroke-width="0.9"/>
<rect x="321.70" y="248.90" width="25.30" height="6.60" fill="#0e1f6a"/>
<line x1="322.10" y1="252.20" x2="346.60" y2="252.20" stroke="#6078a0" stroke-width="0.9"/>
<text x="259.00" y="361.00" font-family='"Liberation Sans", sans-serif' font-size="8.6" fill="#595959" stroke="#595959" stroke-width="0.06" text-anchor="middle" font-weight="normal" textLength="12.30" lengthAdjust="spacingAndGlyphs">reg</text>
<text x="296.70" y="361.00" font-family='"Liberation Sans", sans-serif' font-size="8.6" fill="#595959" stroke="#595959" stroke-width="0.06" text-anchor="middle" font-weight="normal" textLength="8.90" lengthAdjust="spacingAndGlyphs">CL</text>
<text x="334.60" y="361.00" font-family='"Liberation Sans", sans-serif' font-size="8.6" fill="#595959" stroke="#595959" stroke-width="0.06" text-anchor="middle" font-weight="normal" textLength="21.60" lengthAdjust="spacingAndGlyphs">CL-CT</text>
<text x="257.20" y="207.20" font-family='"Liberation Sans", sans-serif' fill="#2a2a2a" stroke="#2a2a2a" stroke-width="0.16" font-size="6.6">p</text>
<text x="260.80" y="208.60" font-family='"Liberation Sans", sans-serif' fill="#2a2a2a" stroke="#2a2a2a" stroke-width="0.06" font-size="5.0" textLength="7.6" lengthAdjust="spacingAndGlyphs">adj</text>
<text x="270.30" y="207.20" font-family='"Liberation Sans", sans-serif' fill="#2a2a2a" stroke="#2a2a2a" stroke-width="0.16" font-size="6.6" textLength="24.00" lengthAdjust="spacingAndGlyphs">&lt; 0.001</text>
<text x="257.20" y="216.20" font-family='"Liberation Sans", sans-serif' fill="#2a2a2a" stroke="#2a2a2a" stroke-width="0.16" font-size="6.6">d</text>
<text x="260.30" y="217.60" font-family='"Liberation Sans", sans-serif' fill="#2a2a2a" stroke="#2a2a2a" stroke-width="0.06" font-size="5.0">z</text>
<text x="265.10" y="216.20" font-family='"Liberation Sans", sans-serif' fill="#2a2a2a" stroke="#2a2a2a" stroke-width="0.16" font-size="6.6" textLength="25.20" lengthAdjust="spacingAndGlyphs">= 1.300</text>
<text x="302.10" y="284.60" font-family='"Liberation Sans", sans-serif' fill="#2a2a2a" stroke="#2a2a2a" stroke-width="0.16" font-size="6.6">p</text>
<text x="305.70" y="286.00" font-family='"Liberation Sans", sans-serif' fill="#2a2a2a" stroke="#2a2a2a" stroke-width="0.06" font-size="5.0" textLength="7.6" lengthAdjust="spacingAndGlyphs">adj</text>
<text x="315.20" y="284.60" font-family='"Liberation Sans", sans-serif' fill="#2a2a2a" stroke="#2a2a2a" stroke-width="0.16" font-size="6.6" textLength="24.40" lengthAdjust="spacingAndGlyphs">&lt; 0.001</text>
<text x="302.10" y="293.70" font-family='"Liberation Sans", sans-serif' fill="#2a2a2a" stroke="#2a2a2a" stroke-width="0.16" font-size="6.6">d</text>
<text x="305.20" y="295.10" font-family='"Liberation Sans", sans-serif' fill="#2a2a2a" stroke="#2a2a2a" stroke-width="0.06" font-size="5.0">z</text>
<text x="310.00" y="293.70" font-family='"Liberation Sans", sans-serif' fill="#2a2a2a" stroke="#2a2a2a" stroke-width="0.16" font-size="6.6" textLength="25.20" lengthAdjust="spacingAndGlyphs">= 2.041</text>
<path d="M260.30,223.00 L260.30,219.40 L296.90,219.40 L296.90,223.00" fill="none" stroke="#595959" stroke-width="0.9"/>
<path d="M297.60,269.20 L297.60,272.70 L334.50,272.70 L334.50,269.20" fill="none" stroke="#595959" stroke-width="0.9"/>
<text x="272.90" y="383.20" font-family='"Liberation Serif", serif' font-size="12.2" fill="#000" textLength="11.60" lengthAdjust="spacingAndGlyphs">(<tspan font-weight="bold">e</tspan>)</text>
<g transform="translate(206.60,277.40) rotate(-90)"><text x="0" y="0" font-family='"Liberation Sans", sans-serif' font-size="8.4" font-weight="bold" fill="#1a1a1a" stroke="#1a1a1a" stroke-width="0.2" textLength="64.70" lengthAdjust="spacingAndGlyphs">ratio AFosc/AF</text></g>
<g transform="translate(208.40,211.70) rotate(-90)"><text x="0" y="0" font-family='"Liberation Sans", sans-serif' font-size="5.6" font-weight="bold" fill="#1a1a1a" stroke="#1a1a1a" stroke-width="0.26" textLength="8.20" lengthAdjust="spacingAndGlyphs">max</text></g>
<line x1="433.50" y1="207.80" x2="543.80" y2="207.80" stroke="#e2e2e2" stroke-width="1.0"/>
<text x="426.00" y="210.80" font-family='"Liberation Sans", sans-serif' font-size="8.6" fill="#303030" stroke="#303030" stroke-width="0.06" text-anchor="end" font-weight="normal">4.5</text>
<line x1="433.50" y1="219.23" x2="543.80" y2="219.23" stroke="#e2e2e2" stroke-width="1.0"/>
<text x="426.00" y="222.23" font-family='"Liberation Sans", sans-serif' font-size="8.6" fill="#303030" stroke="#303030" stroke-width="0.06" text-anchor="end" font-weight="normal">4.0</text>
<line x1="433.50" y1="230.65" x2="543.80" y2="230.65" stroke="#e2e2e2" stroke-width="1.0"/>
<text x="426.00" y="233.65" font-family='"Liberation Sans", sans-serif' font-size="8.6" fill="#303030" stroke="#303030" stroke-width="0.06" text-anchor="end" font-weight="normal">3.5</text>
<line x1="433.50" y1="242.07" x2="543.80" y2="242.07" stroke="#e2e2e2" stroke-width="1.0"/>
<text x="426.00" y="245.07" font-family='"Liberation Sans", sans-serif' font-size="8.6" fill="#303030" stroke="#303030" stroke-width="0.06" text-anchor="end" font-weight="normal">3.0</text>
<line x1="433.50" y1="253.50" x2="543.80" y2="253.50" stroke="#e2e2e2" stroke-width="1.0"/>
<text x="426.00" y="256.50" font-family='"Liberation Sans", sans-serif' font-size="8.6" fill="#303030" stroke="#303030" stroke-width="0.06" text-anchor="end" font-weight="normal">2.5</text>
<line x1="433.50" y1="264.93" x2="543.80" y2="264.93" stroke="#e2e2e2" stroke-width="1.0"/>
<text x="426.00" y="267.93" font-family='"Liberation Sans", sans-serif' font-size="8.6" fill="#303030" stroke="#303030" stroke-width="0.06" text-anchor="end" font-weight="normal">2.0</text>
<line x1="433.50" y1="276.35" x2="543.80" y2="276.35" stroke="#e2e2e2" stroke-width="1.0"/>
<text x="426.00" y="279.35" font-family='"Liberation Sans", sans-serif' font-size="8.6" fill="#303030" stroke="#303030" stroke-width="0.06" text-anchor="end" font-weight="normal">1.5</text>
<line x1="433.50" y1="287.77" x2="543.80" y2="287.77" stroke="#e2e2e2" stroke-width="1.0"/>
<text x="426.00" y="290.77" font-family='"Liberation Sans", sans-serif' font-size="8.6" fill="#303030" stroke="#303030" stroke-width="0.06" text-anchor="end" font-weight="normal">1.0</text>
<line x1="433.50" y1="299.20" x2="543.80" y2="299.20" stroke="#e2e2e2" stroke-width="1.0"/>
<text x="426.00" y="302.20" font-family='"Liberation Sans", sans-serif' font-size="8.6" fill="#303030" stroke="#303030" stroke-width="0.06" text-anchor="end" font-weight="normal">0.5</text>
<line x1="433.50" y1="310.62" x2="543.80" y2="310.62" stroke="#7a7a7a" stroke-width="1.0"/>
<text x="426.00" y="313.62" font-family='"Liberation Sans", sans-serif' font-size="8.6" fill="#303030" stroke="#303030" stroke-width="0.06" text-anchor="end" font-weight="normal">0.0</text>
<line x1="433.50" y1="322.05" x2="543.80" y2="322.05" stroke="#e2e2e2" stroke-width="1.0"/>
<text x="426.00" y="325.05" font-family='"Liberation Sans", sans-serif' font-size="8.6" fill="#303030" stroke="#303030" stroke-width="0.06" text-anchor="end" font-weight="normal">-0.5</text>
<line x1="433.50" y1="333.47" x2="543.80" y2="333.47" stroke="#e2e2e2" stroke-width="1.0"/>
<text x="426.00" y="336.47" font-family='"Liberation Sans", sans-serif' font-size="8.6" fill="#303030" stroke="#303030" stroke-width="0.06" text-anchor="end" font-weight="normal">-1.0</text>
<line x1="433.50" y1="344.90" x2="543.80" y2="344.90" stroke="#e2e2e2" stroke-width="1.0"/>
<text x="426.00" y="347.90" font-family='"Liberation Sans", sans-serif' font-size="8.6" fill="#303030" stroke="#303030" stroke-width="0.06" text-anchor="end" font-weight="normal">-1.5</text>
<line x1="452.15" y1="289.60" x2="452.15" y2="292.40" stroke="#a6a6a6" stroke-width="1.0"/>
<line x1="452.15" y1="295.40" x2="452.15" y2="298.20" stroke="#a6a6a6" stroke-width="1.0"/>
<line x1="449.75" y1="289.60" x2="454.55" y2="289.60" stroke="#a6a6a6" stroke-width="0.9"/>
<line x1="449.75" y1="298.20" x2="454.55" y2="298.20" stroke="#a6a6a6" stroke-width="0.9"/>
<rect x="440.10" y="292.80" width="24.10" height="2.20" fill="#c0c0c0" stroke="#a2a2a2" stroke-width="0.8"/>
<line x1="440.10" y1="293.90" x2="464.20" y2="293.90" stroke="#939393" stroke-width="0.9"/>
<line x1="489.15" y1="208.80" x2="489.15" y2="251.90" stroke="#a6a6a6" stroke-width="1.0"/>
<line x1="489.15" y1="290.30" x2="489.15" y2="333.50" stroke="#a6a6a6" stroke-width="1.0"/>
<line x1="486.75" y1="208.80" x2="491.55" y2="208.80" stroke="#a6a6a6" stroke-width="0.9"/>
<line x1="486.75" y1="333.50" x2="491.55" y2="333.50" stroke="#a6a6a6" stroke-width="0.9"/>
<rect x="477.30" y="251.90" width="23.70" height="38.40" fill="#e40000"/>
<line x1="477.70" y1="271.10" x2="500.60" y2="271.10" stroke="#b85050" stroke-width="0.9"/>
<line x1="525.75" y1="291.20" x2="525.75" y2="293.10" stroke="#a6a6a6" stroke-width="1.0"/>
<line x1="525.75" y1="295.40" x2="525.75" y2="297.20" stroke="#a6a6a6" stroke-width="1.0"/>
<line x1="523.35" y1="291.20" x2="528.15" y2="291.20" stroke="#a6a6a6" stroke-width="0.9"/>
<line x1="523.35" y1="297.20" x2="528.15" y2="297.20" stroke="#a6a6a6" stroke-width="0.9"/>
<rect x="513.50" y="293.10" width="24.50" height="2.30" fill="#0e1f6a"/>
<line x1="513.90" y1="294.20" x2="537.60" y2="294.20" stroke="#6078a0" stroke-width="0.9"/>
<text x="452.70" y="359.80" font-family='"Liberation Sans", sans-serif' font-size="8.6" fill="#595959" stroke="#595959" stroke-width="0.06" text-anchor="middle" font-weight="normal" textLength="11.40" lengthAdjust="spacingAndGlyphs">reg</text>
<text x="488.70" y="359.80" font-family='"Liberation Sans", sans-serif' font-size="8.6" fill="#595959" stroke="#595959" stroke-width="0.06" text-anchor="middle" font-weight="normal" textLength="8.30" lengthAdjust="spacingAndGlyphs">CL</text>
<text x="525.20" y="359.80" font-family='"Liberation Sans", sans-serif' font-size="8.6" fill="#595959" stroke="#595959" stroke-width="0.06" text-anchor="middle" font-weight="normal" textLength="20.10" lengthAdjust="spacingAndGlyphs">CL-CT</text>
<text x="446.60" y="226.50" font-family='"Liberation Sans", sans-serif' fill="#2a2a2a" stroke="#2a2a2a" stroke-width="0.16" font-size="6.6">p</text>
<text x="450.20" y="227.90" font-family='"Liberation Sans", sans-serif' fill="#2a2a2a" stroke="#2a2a2a" stroke-width="0.06" font-size="5.0" textLength="7.6" lengthAdjust="spacingAndGlyphs">adj</text>
<text x="459.70" y="226.50" font-family='"Liberation Sans", sans-serif' fill="#2a2a2a" stroke="#2a2a2a" stroke-width="0.16" font-size="6.6" textLength="25.00" lengthAdjust="spacingAndGlyphs">= 0.002</text>
<text x="446.60" y="235.80" font-family='"Liberation Sans", sans-serif' fill="#2a2a2a" stroke="#2a2a2a" stroke-width="0.16" font-size="6.6">d</text>
<text x="449.70" y="237.20" font-family='"Liberation Sans", sans-serif' fill="#2a2a2a" stroke="#2a2a2a" stroke-width="0.06" font-size="5.0">z</text>
<text x="454.50" y="235.80" font-family='"Liberation Sans", sans-serif' fill="#2a2a2a" stroke="#2a2a2a" stroke-width="0.16" font-size="6.6" textLength="25.80" lengthAdjust="spacingAndGlyphs">= 0.948</text>
<text x="496.90" y="220.80" font-family='"Liberation Sans", sans-serif' fill="#2a2a2a" stroke="#2a2a2a" stroke-width="0.16" font-size="6.6">p</text>
<text x="500.50" y="222.20" font-family='"Liberation Sans", sans-serif' fill="#2a2a2a" stroke="#2a2a2a" stroke-width="0.06" font-size="5.0" textLength="7.6" lengthAdjust="spacingAndGlyphs">adj</text>
<text x="510.00" y="220.80" font-family='"Liberation Sans", sans-serif' fill="#2a2a2a" stroke="#2a2a2a" stroke-width="0.16" font-size="6.6" textLength="24.30" lengthAdjust="spacingAndGlyphs">= 0.003</text>
<text x="496.90" y="230.50" font-family='"Liberation Sans", sans-serif' fill="#2a2a2a" stroke="#2a2a2a" stroke-width="0.16" font-size="6.6">d</text>
<text x="500.00" y="231.90" font-family='"Liberation Sans", sans-serif' fill="#2a2a2a" stroke="#2a2a2a" stroke-width="0.06" font-size="5.0">z</text>
<text x="504.80" y="230.50" font-family='"Liberation Sans", sans-serif' fill="#2a2a2a" stroke="#2a2a2a" stroke-width="0.16" font-size="6.6" textLength="25.10" lengthAdjust="spacingAndGlyphs">= 0.905</text>
<path d="M447.30,242.70 L447.30,239.70 L483.10,239.70 L483.10,242.70" fill="none" stroke="#595959" stroke-width="0.9"/>
<path d="M496.50,237.40 L496.50,233.90 L532.20,233.90 L532.20,237.40" fill="none" stroke="#595959" stroke-width="0.9"/>
<text x="463.80" y="383.80" font-family='"Liberation Serif", serif' font-size="12.2" fill="#000" textLength="11.60" lengthAdjust="spacingAndGlyphs">(<tspan font-weight="bold">f</tspan>)</text>
<g transform="translate(400.60,286.50) rotate(-90)"><text x="0" y="0" font-family='"Liberation Sans", sans-serif' font-size="8.4" font-weight="bold" fill="#1a1a1a" stroke="#1a1a1a" stroke-width="0.2" textLength="76.00" lengthAdjust="spacingAndGlyphs">ratio AFosc/AFiso</text></g>
<g transform="translate(402.20,210.00) rotate(-90)"><text x="0" y="0" font-family='"Liberation Sans", sans-serif' font-size="5.6" font-weight="bold" fill="#1a1a1a" stroke="#1a1a1a" stroke-width="0.26" textLength="9.20" lengthAdjust="spacingAndGlyphs">max</text></g>
</g>
</svg>
</body></html>
